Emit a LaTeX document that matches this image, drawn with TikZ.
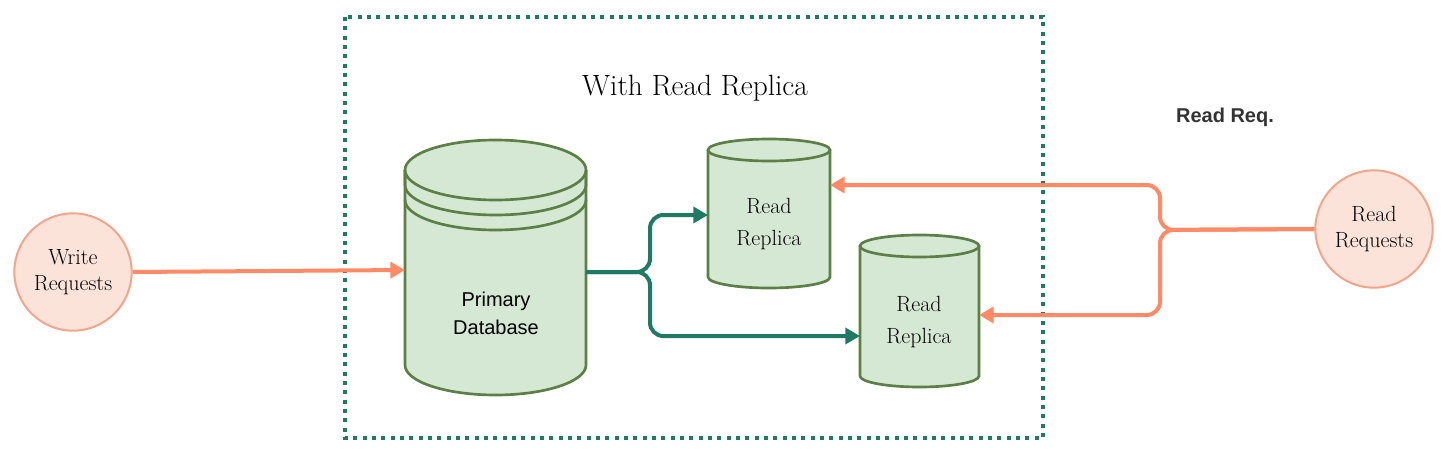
\documentclass[tikz,border=0pt]{standalone}
\usepackage{fontspec}
\newfontfamily\sans{Liberation Sans}
\usetikzlibrary{arrows.meta}
\definecolor{cfill}{HTML}{D5E8D4}
\definecolor{cline}{HTML}{5B7F45}
\definecolor{teal}{HTML}{1F7A64}
\definecolor{orng}{HTML}{FF8A65}
\definecolor{pfill}{HTML}{FBE3DA}
\definecolor{pline}{HTML}{F4A589}
\begin{document}
\begin{tikzpicture}[x=0.75pt,y=-0.75pt,
  circ/.style={circle,draw=pline,fill=pfill,line width=1.5pt,minimum size=88pt,align=center,font=\fontsize{16.5}{20}\selectfont,inner sep=0pt},
  cyl/.style={draw=cline,fill=cfill,line width=2pt},
  tarr/.style={draw=teal,line width=3pt,rounded corners=10pt,-{Triangle[length=11pt,width=12pt]}},
  oarr/.style={draw=orng,line width=3pt,rounded corners=10pt,-{Triangle[length=11pt,width=12pt]}}]
\useasboundingbox (0,0) rectangle (1454,450);
\draw[teal,line width=2.4pt,dash pattern=on 3pt off 4pt] (345,17) rectangle (1043,438);
\node (title) at (695,88) {\fontsize{22}{26}\selectfont With Read Replica};
\node[circ] (write) at (73,272) {Write\\Requests};
\node[circ] (read) at (1374,229) {Read\\Requests};
% primary
\draw[cyl] (405,170) -- (405,365) arc[start angle=180,end angle=0,x radius=90.5,y radius=30] -- (586,170);
\draw[cyl] (495.5,170) ellipse[x radius=90.5,y radius=30];
\draw[cyl,fill=none] (405,170) -- (405,185) arc[start angle=180,end angle=0,x radius=90.5,y radius=30] -- (586,170);
\draw[cyl,fill=none] (405,200) arc[start angle=180,end angle=0,x radius=90.5,y radius=30];
\node[align=center,font=\sans\fontsize{15}{21}\selectfont] (prim) at (496,313) {Primary\\Database};
\coordinate (pe) at (586,272);
% replica 1
\draw[cyl] (708,150) -- (708,277) arc[start angle=180,end angle=0,x radius=61,y radius=11] -- (830,150);
\draw[cyl] (769,150) ellipse[x radius=61,y radius=11];
\node[align=center,font=\fontsize{16.5}{24}\selectfont] (r1) at (769,224) {Read\\Replica};
% replica 2
\draw[cyl] (860,246) -- (860,376) arc[start angle=180,end angle=0,x radius=59.5,y radius=11] -- (979,246);
\draw[cyl] (919.5,246) ellipse[x radius=59.5,y radius=11];
\node[align=center,font=\fontsize{16.5}{24}\selectfont] (r2) at (919,322) {Read\\Replica};
\coordinate (r1e) at (708,215);
\coordinate (r2e) at (860,336);
\coordinate (r1w) at (830,185);
\coordinate (r2w) at (979,315);
\coordinate (pw) at (405,270);
\draw[tarr] (pe) -- (650,272) -- (650,215) -- (r1e);
\draw[tarr] (pe) -- (650,272) -- (650,336) -- (r2e);
\draw[oarr] (write.east) -- (pw);
\draw[oarr] (read.west) -- (1160,230) -- (1160,185) -- (r1w);
\draw[oarr] (read.west) -- (1160,230) -- (1160,315) -- (r2w);
\node[font=\sans\bfseries\fontsize{15}{17}\selectfont,text=black!80] (lbl) at (1225,117) {Read Req.};
\end{tikzpicture}
\end{document}
